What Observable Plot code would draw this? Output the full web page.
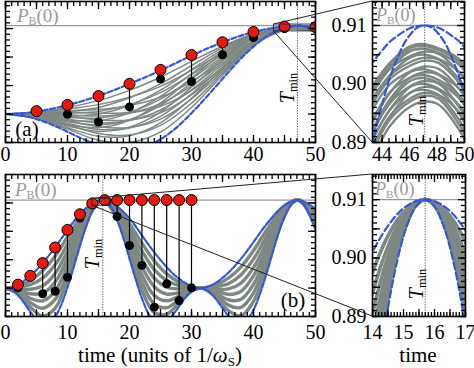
<!DOCTYPE html>
<html><head><meta charset="utf-8">
<script src="https://cdn.jsdelivr.net/npm/d3@7"></script>
<script src="https://cdn.jsdelivr.net/npm/@observablehq/plot@0.6"></script>
<style>
html,body{margin:0;padding:0;background:#fff;}
#fig{position:relative;width:474px;height:368px;overflow:hidden;font-family:"Liberation Serif",serif;color:#000;}
#fig > svg{position:absolute;}
.lbl{position:absolute;white-space:nowrap;line-height:1;}
.lbl sub{font-size:0.62em;vertical-align:baseline;position:relative;top:0.28em;font-style:normal;}
</style></head><body><div id="fig"></div>
<script>
// ---------- tick labels / constants ----------
const tMainTicks = [0, 10, 20, 30, 40, 50];
const tInsetATicks = [44, 46, 48, 50];
const tInsetBTicks = [14, 15, 16, 17];
const pInsetTicks = [0.89, 0.90, 0.91];
const PB0 = 0.91;
const TminA = 47.1, TminB = 15.7;

// ---------- panel (a): envelopes ----------
const tA = [0,3,6,9,12,15,18,21,24,27,30,33,36,39,42,45,47.1,48,50];
const upperA = [0.600,0.603,0.612,0.626,0.643,0.664,0.688,0.715,0.743,0.774,0.805,0.834,0.860,0.882,0.898,0.907,0.910,0.909,0.905];
const lowerA = [0.600,0.593,0.575,0.548,0.517,0.491,0.476,0.478,0.499,0.542,0.603,0.674,0.748,0.817,0.871,0.902,0.910,0.908,0.896];
// panel (a): gray realisations
const tAg = [0,5,10,15,20,25,30,35,40,45,47.1,50];
const grayA = [
 [.600,.584,.547,.508,.500,.537,.623,.736,.840,.894,.897,.891],
 [.600,.585,.552,.522,.524,.569,.655,.760,.851,.896,.899,.893],
 [.600,.585,.558,.539,.554,.607,.694,.788,.865,.900,.902,.897],
 [.600,.586,.563,.552,.578,.639,.726,.812,.876,.903,.905,.901],
 [.600,.589,.562,.532,.526,.560,.638,.742,.842,.895,.898,.892],
 [.600,.590,.567,.546,.551,.592,.670,.766,.853,.8975,.900,.894],
 [.600,.590,.573,.562,.580,.630,.709,.795,.866,.901,.903,.898],
 [.600,.591,.578,.576,.604,.662,.741,.819,.877,.904,.906,.902],
 [.600,.594,.577,.555,.553,.582,.653,.749,.843,.896,.8985,.892],
 [.600,.595,.582,.569,.577,.614,.685,.773,.854,.899,.901,.896],
 [.600,.595,.588,.586,.606,.652,.723,.801,.868,.902,.904,.899],
 [.600,.596,.593,.600,.630,.684,.756,.825,.879,.905,.9065,.902],
 [.600,.599,.592,.579,.579,.604,.667,.755,.845,.897,.8995,.894],
 [.600,.600,.597,.593,.603,.636,.699,.779,.856,.899,.9015,.896],
 [.600,.600,.603,.609,.633,.675,.738,.808,.869,.902,.9045,.900],
 [.600,.601,.608,.623,.657,.706,.770,.832,.880,.905,.9068,.903],
 [.600,.604,.607,.603,.605,.627,.682,.762,.846,.898,.9005,.895],
 [.600,.605,.612,.616,.630,.659,.714,.786,.858,.900,.9025,.897],
 [.600,.605,.618,.633,.659,.697,.753,.814,.871,.9035,.9055,.901],
 [.600,.606,.623,.647,.683,.729,.785,.838,.882,.904,.906,.902]
];
const redAt = [5,10,15,20,25,30,35,40,45,50];
const redAv = [0.610,0.632,0.663,0.706,0.755,0.807,0.852,0.888,0.907,0.905];
const blackAt = [10,15,20,25,30,35,40,45];
const blackAv = [0.599,0.572,0.625,0.723,0.714,0.808,0.868,0.900];

// ---------- inset (a) ----------
const tIAe = [43.1,43.6,44.1,44.6,45.1,45.6,46.1,46.6,47.1,47.6,48.1,48.6,49.1,49.6,50.1,50.6,51.1];
const upperIA = [.9030,.9046,.9060,.9073,.9082,.9090,.9096,.9099,.9100,.9099,.9096,.9090,.9082,.9073,.9060,.9046,.9030];
const lowerIA = [.8876,.8929,.8974,.9013,.9044,.9069,.9086,.9097,.9100,.9097,.9086,.9069,.9044,.9013,.8974,.8929,.8876];
const tIAg = [43.1,44.6,46.1,47.1,48.1,49.6,51.1];
const grayIA = [
 [.8862,.8929,.8962,.8970,.8965,.8922,.8850],
 [.8880,.8945,.8986,.8990,.8982,.8952,.8890],
 [.8930,.8987,.9012,.9020,.9016,.8980,.8918],
 [.8965,.9016,.9046,.9050,.9043,.9021,.8975],
 [.8874,.8940,.8971,.8980,.8975,.8931,.8860],
 [.8896,.8957,.8996,.9000,.8992,.8964,.8906],
 [.8948,.9000,.9022,.9030,.9026,.8992,.8935],
 [.8978,.9027,.9057,.9060,.9053,.9033,.8988],
 [.8882,.8946,.8976,.8985,.8980,.8939,.8870],
 [.8908,.8970,.9006,.9010,.9002,.8976,.8919],
 [.8958,.9009,.9032,.9040,.9036,.9002,.8946],
 [.8986,.9033,.9062,.9065,.9058,.9039,.8996],
 [.8895,.8957,.8986,.8995,.8990,.8950,.8883],
 [.8913,.8975,.9011,.9015,.9007,.8981,.8924],
 [.8968,.9015,.9038,.9045,.9042,.9008,.8956],
 [.8990,.9037,.9065,.9068,.9061,.9043,.9001],
 [.8909,.8968,.8997,.9005,.9001,.8961,.8897],
 [.8926,.8986,.9021,.9025,.9017,.8992,.8937],
 [.8981,.9027,.9048,.9055,.9052,.9020,.8969],
 [.8979,.9028,.9057,.9060,.9053,.9034,.8990]
];

// ---------- panel (b) ----------
const tB = [0,1,2,3,4,5,6,7,8,9,10,11,12,13,14,15,15.7,16,17,18,19,20,21,22,23,24,25,26,27,28,29,30,31,31.4,32,33,34,35,36,37,38,39,40,41,42,43,44,45,46,47,47.1,48,49,50];
const upperB = [.600,.603,.612,.626,.643,.664,.688,.715,.743,.774,.805,.834,.860,.882,.898,.907,.910,.909,.902,.888,.869,.845,.817,.786,.755,.726,.699,.674,.651,.633,.618,.606,.600,.600,.601,.608,.620,.636,.655,.678,.704,.732,.762,.793,.822,.849,.873,.892,.904,.910,.910,.905,.895,.878];
const lowerB = [.600,.593,.575,.548,.517,.491,.476,.478,.499,.542,.603,.674,.748,.817,.871,.902,.910,.908,.886,.840,.777,.704,.631,.564,.513,.484,.475,.484,.506,.536,.566,.587,.598,.600,.598,.584,.560,.530,.500,.480,.475,.488,.523,.577,.644,.718,.791,.851,.892,.910,.910,.897,.861,.805];
const tBg = [0,2,4,6,8,10,12,14,15.7,16,18,20,22,24,26,28,30,31.4,32,34,36,38,40,42,44,46,47.1,48,50];
const grayB = [
 [.600,.607,.627,.661,.712,.780,.846,.895,.910,.909,.882,.827,.758,.696,.650,.621,.604,.600,.601,.612,.636,.675,.732,.800,.863,.903,.910,.904,.869],
 [.600,.603,.612,.635,.682,.754,.832,.891,.910,.909,.876,.810,.731,.665,.627,.609,.601,.600,.600,.605,.616,.647,.702,.778,.852,.901,.910,.903,.860],
 [.600,.598,.596,.608,.651,.729,.818,.888,.910,.909,.870,.792,.703,.635,.603,.597,.599,.600,.600,.597,.597,.618,.672,.755,.842,.900,.910,.902,.850],
 [.600,.593,.580,.582,.621,.704,.804,.884,.910,.909,.864,.775,.675,.605,.579,.584,.597,.600,.599,.590,.578,.589,.643,.733,.832,.898,.910,.901,.841],
 [.600,.589,.564,.555,.590,.679,.790,.881,.910,.908,.858,.757,.647,.574,.555,.572,.594,.600,.599,.582,.558,.561,.613,.711,.821,.897,.910,.900,.832],
 [.600,.584,.549,.529,.560,.653,.776,.877,.910,.908,.852,.740,.620,.544,.531,.560,.592,.600,.598,.575,.539,.532,.583,.689,.811,.895,.910,.899,.823],
 [.600,.580,.533,.502,.529,.628,.762,.874,.910,.908,.846,.722,.592,.514,.508,.548,.590,.600,.598,.567,.520,.503,.553,.667,.801,.894,.910,.898,.814]
];
const redBt = [2,4,6,8,10,12,14,16,18,20,22,24,26,28,30];
const redBv = [0.612,0.643,0.688,0.743,0.805,0.860,0.898,0.910,0.910,0.910,0.910,0.910,0.910,0.910,0.910];
const blackBt = [2,6,8,10,12,18,20,22,24,26,28,30];
const blackBv = [0.601,0.580,0.589,0.638,0.847,0.852,0.750,0.680,0.533,0.615,0.556,0.601];

// ---------- inset (b) ----------
const tIB = [13.9,14.2,14.5,14.8,15.1,15.4,15.7,16.0,16.3,16.6,16.9,17.2];
const upperIB = [.8999,.9030,.9055,.9075,.9089,.9097,.9100,.9097,.9089,.9075,.9055,.9030];
const lowerIB = [.8683,.8810,.8915,.8996,.9054,.9088,.9100,.9088,.9054,.8996,.8915,.8810];
const grayIB = [
 [.8960,.9003,.9038,.9065,.9084,.9096,.9100,.9096,.9084,.9065,.9038,.9003],
 [.8920,.8975,.9020,.9055,.9080,.9095,.9100,.9095,.9080,.9055,.9020,.8975],
 [.8881,.8948,.9003,.9045,.9076,.9094,.9100,.9094,.9076,.9045,.9003,.8948],
 [.8841,.8920,.8985,.9035,.9071,.9093,.9100,.9093,.9071,.9035,.8985,.8920],
 [.8802,.8893,.8967,.9025,.9067,.9092,.9100,.9092,.9067,.9025,.8967,.8893],
 [.8762,.8865,.8950,.9015,.9062,.9091,.9100,.9091,.9062,.9015,.8950,.8865],
 [.8722,.8838,.8932,.9006,.9058,.9090,.9100,.9090,.9058,.9006,.8932,.8838]
];

// ---------- helpers ----------
const GRAY = "#7e8883", BLUE = "#3556d8", RED = "#e6190e", PBGRAY = "#9a9a9a";
const domA = [0.5, 0.995], domB = [0.5, 1.0], domIA = [0.89, 0.9141], domIB = [0.89, 0.9143];
const xMain = [0, 50], xIA = [43.3, 50], xIB = [14, 17];

const pts = (ts, vs) => vs.map((v, i) => ({t: ts[i], v}));
const longForm = (ts, series) => series.flatMap((vs, k) => vs.map((v, j) => ({t: ts[j], v, id: k})));
function stems(bt, bv, rt, rv) {
  const m = new Map(rt.map((t, i) => [t, rv[i]]));
  return bt.filter(t => m.has(t)).map((t) => ({t, lo: bv[bt.indexOf(t)], hi: m.get(t)}));
}
const style = {fontFamily: "Liberation Serif, serif", fontSize: "20px", color: "black", background: "transparent", overflow: "visible"};
const mainYMinor = d3.range(0.5, 0.99, 0.02), mainYMajor = [0.5, 0.6, 0.7, 0.8, 0.9];
const insYMinor = d3.range(0.89, 0.9142, 0.001), insYMajor = [0.89, 0.895, 0.90, 0.905, 0.91];
const intFmt = d3.format("d");

// inward frame ticks as Plot marks: each tick is a short "tickX/tickY"-like rule, built from the scale domains
function tickMarks(xd, yd, fw, fh, xMinor, xMajor, yMinor, yMajor) {
  const ux = (xd[1] - xd[0]) / fw, uy = (yd[1] - yd[0]) / fh;
  const segs = [];
  for (const [arr, L] of [[xMinor, 4.5], [xMajor, 7.5]]) for (const v of arr) {
    segs.push({x1: v, x2: v, y1: yd[0], y2: yd[0] + L * uy});
    segs.push({x1: v, x2: v, y1: yd[1], y2: yd[1] - L * uy});
  }
  for (const [arr, L] of [[yMinor, 4.5], [yMajor, 7.5]]) for (const v of arr) {
    segs.push({y1: v, y2: v, x1: xd[0], x2: xd[0] + L * ux});
    segs.push({y1: v, y2: v, x1: xd[1], x2: xd[1] - L * ux});
  }
  return Plot.link(segs, {x1: "x1", y1: "y1", x2: "x2", y2: "y2", stroke: "black", strokeWidth: 1.3});
}

function pbMark() { return Plot.ruleY([PB0], {stroke: PBGRAY, strokeWidth: 1.3}); }
function tminMark(tmin) { return Plot.ruleX([tmin], {stroke: "#444", strokeWidth: 0.9, strokeDasharray: "1.2,1.4"}); }

// ---------- panel (a) ----------
const pa = Plot.plot({
  width: 330, height: 170, marginTop: 1, marginRight: 15, marginBottom: 28, marginLeft: 5,
  style,
  x: {domain: xMain, ticks: tMainTicks, tickFormat: intFmt, tickSize: 0, tickPadding: 4, label: null},
  y: {domain: domA, axis: null},
  marks: [
    pbMark(),
    Plot.line(longForm(tAg, grayA), {x: "t", y: "v", z: "id", stroke: GRAY, strokeWidth: 1.5, curve: "catmull-rom", clip: true}),
    tminMark(TminA),
    Plot.line(pts(tA, lowerA), {x: "t", y: "v", stroke: BLUE, strokeWidth: 2.2, strokeDasharray: "5,2.5", curve: "catmull-rom", clip: true}),
    Plot.line(pts(tA, upperA), {x: "t", y: "v", stroke: BLUE, strokeWidth: 2.2, strokeDasharray: "5,2.5", curve: "catmull-rom", clip: true}),
    Plot.ruleX(stems(blackAt, blackAv, redAt, redAv), {x: "t", y1: "lo", y2: "hi", stroke: "black", strokeWidth: 1.2}),
    Plot.dot(pts(blackAt, blackAv), {x: "t", y: "v", r: 4.5, fill: "black", clip: true}),
    Plot.dot(pts(redAt, redAv), {x: "t", y: "v", r: 5.5, fill: RED, stroke: "black", strokeWidth: 1, clip: true}),
    tickMarks(xMain, domA, 310, 141, d3.range(0, 50.01, 1), d3.range(0, 50.01, 5), mainYMinor, mainYMajor),
    Plot.frame({stroke: "black", strokeWidth: 1.6})
  ]
});

// ---------- inset (a) ----------
const pia = Plot.plot({
  width: 144, height: 170, marginTop: 1, marginRight: 10, marginBottom: 28, marginLeft: 42,
  style,
  x: {domain: xIA, ticks: tInsetATicks, tickFormat: intFmt, tickSize: 0, tickPadding: 4, label: null},
  y: {domain: domIA, ticks: pInsetTicks, tickFormat: ".2f", tickSize: 0, tickPadding: 6, label: null},
  marks: [
    pbMark(),
    Plot.line(longForm(tIAg, grayIA), {x: "t", y: "v", z: "id", stroke: GRAY, strokeWidth: 2.4, curve: "catmull-rom", clip: true}),
    tminMark(TminA),
    Plot.line(pts(tIAe, lowerIA), {x: "t", y: "v", stroke: BLUE, strokeWidth: 2.2, strokeDasharray: "7,3.5", curve: "catmull-rom", clip: true}),
    Plot.line(pts(tIAe, upperIA), {x: "t", y: "v", stroke: BLUE, strokeWidth: 2.2, strokeDasharray: "7,3.5", curve: "catmull-rom", clip: true}),
    tickMarks(xIA, domIA, 92, 141, d3.range(43.5, 50.01, 0.5), d3.range(44, 50.01, 1), insYMinor, insYMajor),
    Plot.frame({stroke: "black", strokeWidth: 1.6})
  ]
});

// ---------- panel (b) ----------
const pb = Plot.plot({
  width: 330, height: 198, marginTop: 4, marginRight: 15, marginBottom: 52, marginLeft: 5,
  style,
  x: {domain: xMain, ticks: tMainTicks, tickFormat: intFmt, tickSize: 0, tickPadding: 8, label: null},
  y: {domain: domB, axis: null},
  marks: [
    pbMark(),
    Plot.line(longForm(tBg, grayB), {x: "t", y: "v", z: "id", stroke: GRAY, strokeWidth: 3.4, curve: "catmull-rom", clip: true}),
    tminMark(TminB),
    Plot.line(pts(tB, lowerB), {x: "t", y: "v", stroke: BLUE, strokeWidth: 2.2, strokeDasharray: "5,2", curve: "catmull-rom", clip: true}),
    Plot.line(pts(tB, upperB), {x: "t", y: "v", stroke: BLUE, strokeWidth: 2.2, strokeDasharray: "5,2", curve: "catmull-rom", clip: true}),
    Plot.ruleX(stems(blackBt, blackBv, redBt, redBv), {x: "t", y1: "lo", y2: "hi", stroke: "black", strokeWidth: 1.2}),
    Plot.dot(pts(blackBt, blackBv), {x: "t", y: "v", r: 4.5, fill: "black", clip: true}),
    Plot.dot(pts(redBt, redBv), {x: "t", y: "v", r: 5.5, fill: RED, stroke: "black", strokeWidth: 1, clip: true}),
    tickMarks(xMain, domB, 310, 142, d3.range(0, 50.01, 1), d3.range(0, 50.01, 5), mainYMinor, mainYMajor),
    Plot.frame({stroke: "black", strokeWidth: 1.6})
  ]
});

// ---------- inset (b) ----------
const pib = Plot.plot({
  width: 144, height: 198, marginTop: 4, marginRight: 9, marginBottom: 52, marginLeft: 42,
  style,
  x: {domain: xIB, ticks: tInsetBTicks, tickFormat: intFmt, tickSize: 0, tickPadding: 8, label: null},
  y: {domain: domIB, ticks: pInsetTicks, tickFormat: ".2f", tickSize: 0, tickPadding: 6, label: null},
  marks: [
    pbMark(),
    Plot.line(longForm(tIB, grayIB), {x: "t", y: "v", z: "id", stroke: GRAY, strokeWidth: 3.6, curve: "catmull-rom", clip: true}),
    tminMark(TminB),
    Plot.line(pts(tIB, lowerIB), {x: "t", y: "v", stroke: BLUE, strokeWidth: 2.2, strokeDasharray: "7,3.5", curve: "catmull-rom", clip: true}),
    Plot.line(pts(tIB, upperIB), {x: "t", y: "v", stroke: BLUE, strokeWidth: 2.2, strokeDasharray: "7,3.5", curve: "catmull-rom", clip: true}),
    tickMarks(xIB, domIB, 93, 142, d3.range(14, 17.001, 0.1), d3.range(14, 17.001, 0.5), insYMinor, insYMajor),
    Plot.frame({stroke: "black", strokeWidth: 1.6})
  ]
});

// ---------- assemble ----------
const fig = document.getElementById("fig");
function put(el, left, top) { el.style.left = left + "px"; el.style.top = top + "px"; fig.appendChild(el); }
put(pa, 0, 0); put(pia, 330, 0); put(pb, 0, 170); put(pib, 330, 170);

function mapper(plot, left, top) {
  const sx = plot.scale("x"), sy = plot.scale("y");
  const fx = d3.scaleLinear(sx.domain, sx.range), fy = d3.scaleLinear(sy.domain, sy.range);
  return (x, y) => [left + fx(x), top + fy(y)];
}
const mA = mapper(pa, 0, 0), mIA = mapper(pia, 330, 0), mB = mapper(pb, 0, 170), mIB = mapper(pib, 330, 170);
const NS = "http://www.w3.org/2000/svg";
const ov = document.createElementNS(NS, "svg");
ov.setAttribute("width", 474); ov.setAttribute("height", 368);
ov.style.cssText = "position:absolute;left:0;top:0;pointer-events:none;overflow:visible;";
function seg(x1, y1, x2, y2, w, col) {
  const l = document.createElementNS(NS, "line");
  l.setAttribute("x1", x1); l.setAttribute("y1", y1); l.setAttribute("x2", x2); l.setAttribute("y2", y2);
  l.setAttribute("stroke", col || "#000"); l.setAttribute("stroke-width", w || 1.5);
  ov.appendChild(l);
}
function connect(mMain, mIns, xd, yd) {
  const a = mMain(xd[0], yd[1]), b = mMain(xd[1], yd[0]);
  seg(a[0], a[1], b[0], a[1], 0.9, "#222"); seg(a[0], b[1], b[0], b[1], 0.9, "#222");
  seg(a[0], a[1], a[0], b[1], 0.9, "#222"); seg(b[0], a[1], b[0], b[1], 0.9, "#222");
  const q1 = mIns(xd[0], yd[1]), q2 = mIns(xd[0], yd[0]);
  seg(a[0], a[1], q1[0], q1[1], 1, "#222");
  seg(a[0], b[1], q2[0], q2[1], 1, "#222");
}
connect(mA, mIA, xIA, domIA);
connect(mB, mIB, xIB, domIB);
fig.appendChild(ov);

// ---------- text labels ----------
function label(html, x, y, opts = {}) {
  const d = document.createElement("div");
  d.className = "lbl";
  d.innerHTML = html;
  d.style.fontSize = (opts.size || 20) + "px";
  if (opts.color) d.style.color = opts.color;
  const tx = opts.anchor === "start" ? "0" : "-50%";
  d.style.transform = `translate(${tx},-50%)` + (opts.rotate ? ` rotate(${opts.rotate}deg)` : "");
  d.style.transformOrigin = opts.anchor === "start" ? "0 50%" : "50% 50%";
  put(d, x, y);
}
const PBhtml = '<i>P</i><sub>B</sub>(0)';
const Tmin = '<i>T</i><sub>min</sub>';
label(PBhtml, 17, 15, {anchor: "start", color: PBGRAY, size: 19});
label(PBhtml, 15, 189, {anchor: "start", color: PBGRAY, size: 19});
label(PBhtml, 376, 15, {anchor: "start", color: PBGRAY, size: 18});
label(PBhtml, 375, 189, {anchor: "start", color: PBGRAY, size: 18});
label(Tmin, 287, 88, {rotate: -90, size: 20});
label(Tmin, 92, 254, {rotate: -90, size: 20});
label(Tmin, 416, 111, {rotate: -90, size: 20});
label(Tmin, 416, 284, {rotate: -90, size: 20});
label("(a)", 27, 129, {size: 21});
label("(b)", 293, 300, {size: 21});
label('time (units of 1/<i>ω</i><sub>S</sub>)', 160, 355, {size: 21});
label("time", 418, 355, {size: 21});
</script></body></html>
